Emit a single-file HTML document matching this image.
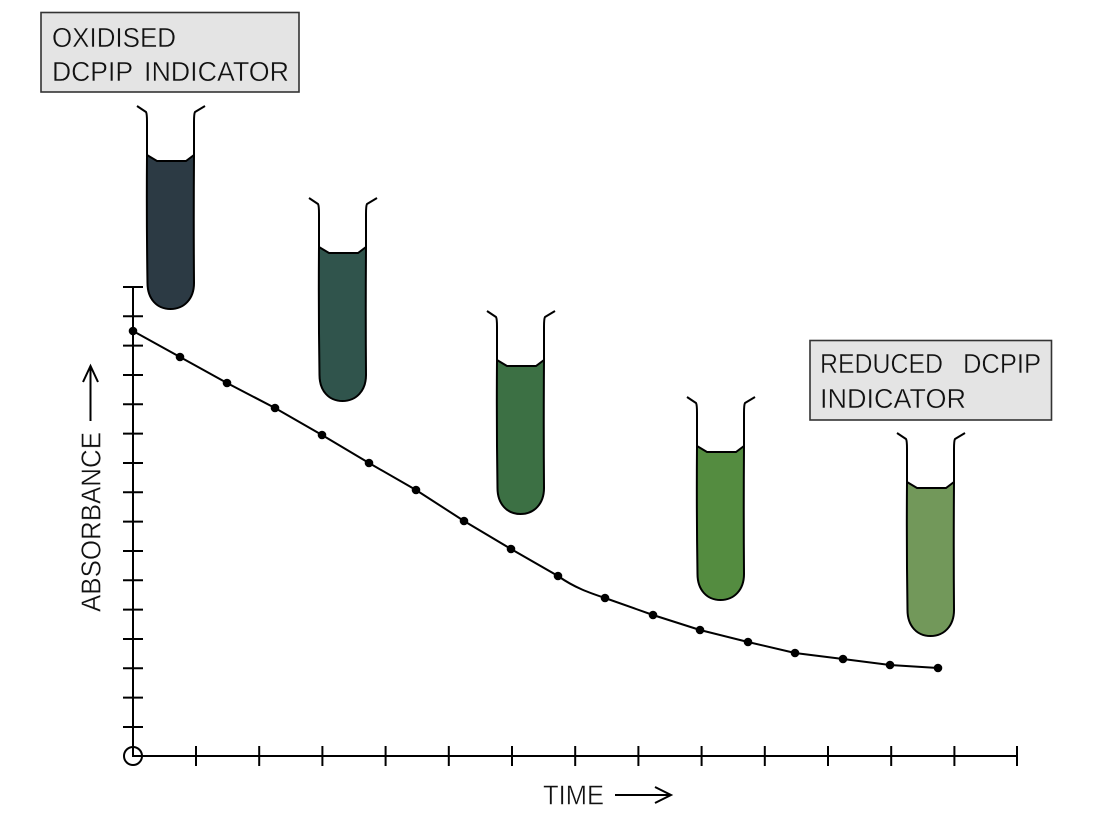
<!DOCTYPE html>
<html><head><meta charset="utf-8"><style>
html,body{margin:0;padding:0;background:#fff;width:1098px;height:833px;overflow:hidden}
svg{display:block}
text{font-family:"Liberation Sans",sans-serif;font-size:27.5px;fill:#111;stroke-width:.4px}
.b{stroke:#e4e4e4}
.w{stroke:#fff}
</style></head><body>
<svg width="1098" height="833" viewBox="0 0 1098 833" xmlns="http://www.w3.org/2000/svg">
<defs>
<g id="rim" fill="none" stroke="#000" stroke-width="2">
<path d="M137 106L146 112Q147 113.500 147 122V155"/>
<path d="M205 106L195 112Q194 113.500 194 122V155"/>
</g>
<path id="body" d="M147 155L157 161H186L194 155Q193.500 220 194 283C194 299 184 309 170.500 309C157 309 147.500 299 147.500 283Q146.500 220 147 155Z"/>
</defs>
<rect x="41" y="12.500" width="258" height="79.500" fill="#e4e4e4" stroke="#333" stroke-width="1.600"/>
<text class="b" x="52" y="47" textLength="124" lengthAdjust="spacingAndGlyphs">OXIDISED</text>
<text class="b" x="52" y="81" textLength="81" lengthAdjust="spacingAndGlyphs">DCPIP</text>
<text class="b" x="144" y="81" textLength="145" lengthAdjust="spacingAndGlyphs">INDICATOR</text>
<rect x="810" y="340.500" width="241.500" height="79.500" fill="#e4e4e4" stroke="#333" stroke-width="1.600"/>
<text class="b" x="820" y="373" textLength="123" lengthAdjust="spacingAndGlyphs">REDUCED</text>
<text class="b" x="963" y="373" textLength="78" lengthAdjust="spacingAndGlyphs">DCPIP</text>
<text class="b" x="820" y="408" textLength="146" lengthAdjust="spacingAndGlyphs">INDICATOR</text>

<g stroke="#000" stroke-width="2" fill="none">
<path d="M133 287V756H1017"/>
<circle cx="133" cy="756" r="9"/>
<path d="M123 287H143M123 316.300H143M123 345.600H143M123 375H143M123 404.300H143M123 433.600H143M123 463H143M123 492.300H143M123 521.600H143M123 551H143M123 580.300H143M123 609.600H143M123 639H143M123 668.300H143M123 697.600H143M123 727H143"/>
<path d="M196 746V766M259.200 746V766M322.400 746V766M385.600 746V766M448.800 746V766M512 746V766M575.200 746V766M638.400 746V766M701.600 746V766M764.800 746V766M828 746V766M891.200 746V766M954.400 746V766M1017 746V766"/>
<path d="M133 331L180 357L227 383L275 408L322 435L369 463L416 490L464 521L511 549L558 576C575 588 590 593 605 598L653 615L700 630L748 642L795 653L843 659L890 665L938 668"/>
<path d="M90.500 421V366M83 382L90.500 366L98 382"/>
<path d="M615 795H671M655 787L671 795L655 803"/>
</g>
<g fill="#000">
<circle cx="133" cy="331" r="4.300"/><circle cx="180" cy="357" r="4.300"/><circle cx="227" cy="383" r="4.300"/><circle cx="275" cy="408" r="4.300"/><circle cx="322" cy="435" r="4.300"/><circle cx="369" cy="463" r="4.300"/><circle cx="416" cy="490" r="4.300"/><circle cx="464" cy="521" r="4.300"/><circle cx="511" cy="549" r="4.300"/><circle cx="558" cy="576" r="4.300"/><circle cx="605" cy="598" r="4.300"/><circle cx="653" cy="615" r="4.300"/><circle cx="700" cy="630" r="4.300"/><circle cx="748" cy="642" r="4.300"/><circle cx="795" cy="653" r="4.300"/><circle cx="843" cy="659" r="4.300"/><circle cx="890" cy="665" r="4.300"/><circle cx="938" cy="668" r="4.300"/>
</g>
<text class="w" x="543" y="804.500" textLength="61" lengthAdjust="spacingAndGlyphs">TIME</text>
<text class="w" transform="translate(100.500 612) rotate(-90)" textLength="180" lengthAdjust="spacingAndGlyphs">ABSORBANCE</text>

<g stroke="#000" stroke-width="2">
<g><use href="#rim"/><use href="#body" fill="#2c3a44"/></g>
<g transform="translate(172 92)"><use href="#rim"/><use href="#body" fill="#30544c"/></g>
<g transform="translate(350 205)"><use href="#rim"/><use href="#body" fill="#3c7044"/></g>
<g transform="translate(550 291)"><use href="#rim"/><use href="#body" fill="#548c40"/></g>
<g transform="translate(760 327)"><use href="#rim"/><use href="#body" fill="#72985a"/></g>
</g>
</svg>
</body></html>
